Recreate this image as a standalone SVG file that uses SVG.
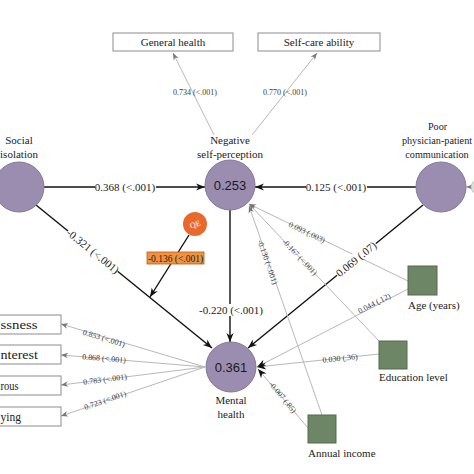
<svg xmlns="http://www.w3.org/2000/svg" width="474" height="474" viewBox="0 0 474 474">
<style>
.lat{fill:#9a8daf;stroke:#84789a;stroke-width:1}
.obs{fill:#6d8665;stroke:#55684f;stroke-width:1}
.ind{fill:#fff;stroke:#8c8c8c;stroke-width:1}
.lbl{font-family:"Liberation Serif",serif;font-size:11px;fill:#222;text-anchor:middle}
.lft{font-family:"Liberation Serif",serif;font-size:12.5px;fill:#222}
.val{font-family:"Liberation Sans",Arial,sans-serif;font-size:13px;fill:#1a1a1a;text-anchor:middle}
.blk{stroke:#111;stroke-width:1.4;fill:none}
.gry{stroke:#b8b8b8;stroke-width:1;fill:none}
.pl{font-family:"Liberation Serif",serif;font-size:11px;fill:#222;text-anchor:middle}
.bg{fill:#fff}
.sl{font-family:"Liberation Serif",serif;font-size:8px;fill:#3a3a3a;text-anchor:middle}
</style>
<defs>
<marker id="ab" viewBox="0 0 10 10" refX="10" refY="5" markerWidth="9" markerHeight="9" markerUnits="userSpaceOnUse" orient="auto"><path d="M0,1 L10,5 L0,9 L3,5 z" fill="#111"/></marker>
<marker id="ag" viewBox="0 0 10 10" refX="10" refY="5" markerWidth="7" markerHeight="7" markerUnits="userSpaceOnUse" orient="auto"><path d="M0,1 L10,5 L0,9 L3,5 z" fill="#777"/></marker>
</defs>
<rect width="474" height="474" fill="#fff"/>
<g id="connectors">
<line class="gry" x1="214" y1="135" x2="173" y2="53" marker-end="url(#ag)"/>
<line class="gry" x1="252" y1="135" x2="317" y2="53" marker-end="url(#ag)"/>
<line class="blk" x1="44" y1="187" x2="205" y2="187" marker-end="url(#ab)"/>
<line class="blk" x1="416" y1="187" x2="255" y2="187" marker-end="url(#ab)"/>
<line class="blk" x1="36" y1="205" x2="212" y2="348" marker-end="url(#ab)"/>
<line class="blk" x1="423" y1="205" x2="248" y2="348" marker-end="url(#ab)"/>
<line class="blk" x1="230" y1="210" x2="230" y2="342" marker-end="url(#ab)"/>
<line class="blk" x1="189" y1="235" x2="150" y2="297" marker-end="url(#ab)"/>
<line class="gry" x1="408" y1="281" x2="249" y2="204" marker-end="url(#ag)"/>
<line class="gry" x1="379" y1="341" x2="249" y2="204" marker-end="url(#ag)"/>
<line class="gry" x1="322" y1="415" x2="249" y2="206" marker-end="url(#ag)"/>
<line class="gry" x1="408" y1="289" x2="257" y2="367" marker-end="url(#ab)"/>
<line class="gry" x1="379" y1="354" x2="257" y2="367" marker-end="url(#ab)"/>
<line class="gry" x1="308" y1="428" x2="258" y2="369" marker-end="url(#ab)"/>
<line class="gry" x1="205" y1="367" x2="61" y2="324" marker-end="url(#ag)"/>
<line class="gry" x1="205" y1="367" x2="61" y2="355" marker-end="url(#ag)"/>
<line class="gry" x1="205" y1="367" x2="61" y2="385" marker-end="url(#ag)"/>
<line class="gry" x1="205" y1="367" x2="61" y2="416" marker-end="url(#ag)"/>
<line x1="472" y1="187" x2="466" y2="187" stroke="#ccc" stroke-width="1" marker-end="url(#ag)"/>
<text class="sl" x="195" y="95">0.734 (&lt;.001)</text>
<text class="sl" x="285" y="95">0.770 (&lt;.001)</text>
<rect class="bg" x="95" y="181" width="61" height="12"/>
<text class="pl" x="125" y="191">0.368 (&lt;.001)</text>
<rect class="bg" x="306" y="181" width="61" height="12"/>
<text class="pl" x="336" y="191">0.125 (&lt;.001)</text>
<g transform="translate(93 251) rotate(39.1)"><rect class="bg" x="-32" y="-6" width="64" height="12"/><text class="pl" x="0" y="4">-0.321 (&lt;.001)</text></g>
<g transform="translate(356 259) rotate(-39.3)"><rect class="bg" x="-25" y="-6" width="50" height="12"/><text class="pl" x="0" y="4">0.069 (.07)</text></g>
<rect class="bg" x="199" y="304" width="64" height="12"/>
<text class="pl" x="231" y="314">-0.220 (&lt;.001)</text>
<text class="sl" x="307" y="232" dy="3" transform="rotate(25.8 307 232)">0.093 (.003)</text>
<text class="sl" x="300" y="257" dy="3" transform="rotate(46.5 300 257)">-0.167 (&lt;.001)</text>
<text class="sl" x="268" y="262" dy="3" transform="rotate(70.7 268 262)">-0.130 (&lt;.001)</text>
<text class="sl" x="374" y="303" dy="3" transform="rotate(-27.5 374 303)">0.044 (.12)</text>
<text class="sl" x="340" y="358" dy="3" transform="rotate(-6.1 340 358)">0.030 (.36)</text>
<text class="sl" x="283" y="397" dy="3" transform="rotate(50.8 283 397)">-0.007 (.85)</text>
<text class="sl" x="104" y="338" dy="3" transform="rotate(16.6 104 338)">0.853 (&lt;.001)</text>
<text class="sl" x="104" y="358" dy="3" transform="rotate(4.8 104 358)">0.868 (&lt;.001)</text>
<text class="sl" x="105" y="379" dy="3" transform="rotate(-7.1 105 379)">0.783 (&lt;.001)</text>
<text class="sl" x="105" y="400" dy="3" transform="rotate(-18.8 105 400)">0.723 (&lt;.001)</text>
</g>
<g id="qe-label">
<rect x="147" y="252" width="57" height="12" fill="#f09240" stroke="#b85a1a" stroke-width="0.8"/>
<text x="175.5" y="261.5" font-family="Liberation Serif,serif" font-size="9.5" fill="#222" text-anchor="middle">-0.136 (&lt;.001)</text>
</g>
<g id="general-health"><rect class="ind" x="113" y="33" width="120" height="18"/><text class="lbl" x="173" y="46">General health</text></g>
<g id="self-care"><rect class="ind" x="258" y="33" width="122" height="18"/><text class="lbl" x="319" y="46">Self-care ability</text></g>
<g id="ind1"><rect class="ind" x="-60" y="315" width="121" height="19"/><text class="lft" x="0.5" y="328.5" textLength="37" lengthAdjust="spacingAndGlyphs">ssness</text></g>
<g id="ind2"><rect class="ind" x="-60" y="345" width="121" height="19"/><text class="lft" x="0.5" y="358.5" textLength="37.5" lengthAdjust="spacingAndGlyphs">nterest</text></g>
<g id="ind3"><rect class="ind" x="-60" y="376" width="121" height="19"/><text class="lft" x="0.5" y="389.5" textLength="18" lengthAdjust="spacingAndGlyphs">rous</text></g>
<g id="ind4"><rect class="ind" x="-60" y="407" width="121" height="19"/><text class="lft" x="0.5" y="420.5" textLength="20.5" lengthAdjust="spacingAndGlyphs">ying</text></g>
<g id="social-isolation"><circle class="lat" cx="19" cy="187" r="25"/><text class="lbl" x="19" y="144">Social</text><text class="lbl" x="19" y="158">isolation</text></g>
<g id="negative-self-perception"><circle class="lat" cx="230" cy="185" r="25"/><text class="val" x="230" y="190">0.253</text><text class="lbl" x="230" y="144">Negative</text><text class="lbl" x="230" y="158">self-perception</text></g>
<g id="poor-communication"><circle class="lat" cx="441" cy="187" r="25"/><text class="lbl" x="437.5" y="130" font-size="10.2" style="font-size:10.2px">Poor</text><text class="lbl" x="437" y="144" style="font-size:10.2px">physician-patient</text><text class="lbl" x="437" y="158" style="font-size:10.2px">communication</text><circle cx="478" cy="187" r="7" fill="#ddd" stroke="#bbb" stroke-width="0.8"/></g>
<g id="mental-health"><circle class="lat" cx="231" cy="367" r="25"/><text class="val" x="231" y="372">0.361</text><text class="lbl" x="231" y="404">Mental</text><text class="lbl" x="231" y="418">health</text></g>
<g id="qe"><circle cx="195" cy="224" r="12" fill="#e8692b"/><text x="195" y="227" font-family="Liberation Serif,serif" font-size="8" fill="#fff" text-anchor="middle" transform="rotate(-20 195 224)">QE</text></g>
<g id="age"><rect class="obs" x="408" y="266" width="29" height="29"/><text class="lbl" x="408" y="309" style="text-anchor:start">Age (years)</text></g>
<g id="education"><rect class="obs" x="379" y="341" width="28" height="28"/><text class="lbl" x="379" y="381" style="text-anchor:start">Education level</text></g>
<g id="income"><rect class="obs" x="308" y="415" width="28" height="28"/><text class="lbl" x="308" y="457" style="text-anchor:start">Annual income</text></g>
</svg>
